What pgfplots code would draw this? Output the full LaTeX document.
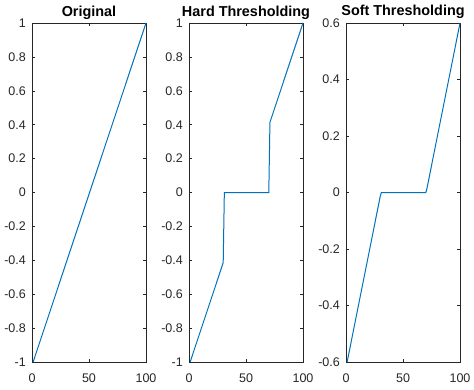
\documentclass[border=0pt]{standalone}
\usepackage{pgfplots}
\pgfplotsset{compat=1.18}
\usepackage{fontspec}
\setmainfont{Liberation Sans}
\definecolor{mline}{RGB}{0,114,189}
\definecolor{maxis}{RGB}{38,38,38}
\pgfplotsset{
  mstyle/.style={
    scale only axis, width=114pt, height=339pt, anchor=south west,
    xmin=0, xmax=100, xtick={0,50,100},
    axis line style={maxis, line width=0.6pt},
    tick style={maxis, line width=0.6pt},
    major tick length=3pt,
    tick align=inside,
    ticklabel style={font=\fontsize{12.5}{14}\selectfont, text=maxis},
    /pgf/number format/assume math mode=true,
    yticklabel style={/pgf/number format/fixed, /pgf/number format/precision=1, anchor=east, inner sep=0pt, xshift=-6pt},
    xticklabel style={anchor=base, inner sep=0pt, yshift=-20pt},
    every axis title shift=0pt,
    title style={font=\bfseries\fontsize{14.4}{16}\selectfont, at={(0.5,1)}, anchor=base, inner sep=0pt, yshift=7pt},
    clip=false,
  },
  mplot/.style={mline, line width=1pt, no markers},
}
\begin{document}
\begin{tikzpicture}
\useasboundingbox (0,0) rectangle (474pt,389pt);
\begin{axis}[mstyle, at={(32pt,27pt)}, ymin=-1, ymax=1, ytick={-1,-0.8,...,1}, title={Original}]
\addplot[mplot] coordinates {(1,-1) (100,1)};
\end{axis}
\begin{axis}[mstyle, at={(189pt,27pt)}, ymin=-1, ymax=1, ytick={-1,-0.8,...,1}, title={Hard Thresholding}]
\addplot[mplot] coordinates {(1,-1) (30,-0.41414) (31,0) (70,0) (71,0.41414) (100,1)};
\end{axis}
\begin{axis}[mstyle, at={(346pt,27pt)}, ymin=-0.6, ymax=0.6, ytick={-0.6,-0.4,...,0.6}, title={Soft Thresholding}]
\addplot[mplot] coordinates {(1,-0.6) (30,-0.01414) (31,0) (70,0) (71,0.01414) (100,0.6)};
\end{axis}
\end{tikzpicture}
\end{document}
